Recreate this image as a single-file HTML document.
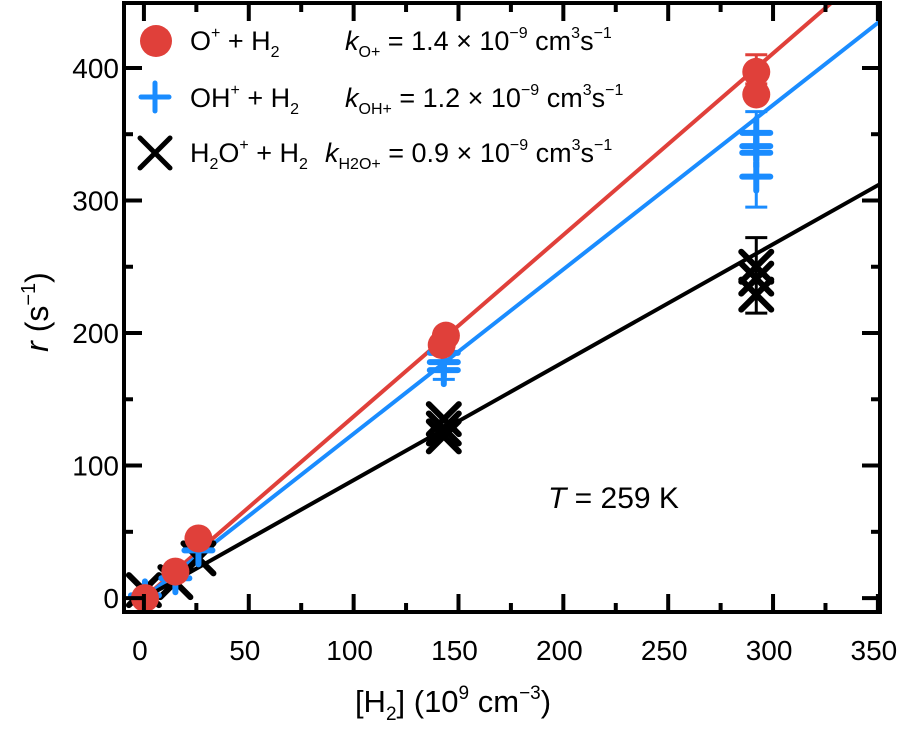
<!DOCTYPE html>
<html><head><meta charset="utf-8">
<style>
body{margin:0;background:#fff;}
svg text{font-family:"Liberation Sans",Arial,sans-serif;}
</style></head>
<body>
<svg id="chart" width="900" height="728" viewBox="0 0 900 728" xmlns="http://www.w3.org/2000/svg">
<g id="marks"></g>
<g id="frame"></g>
<g font-size="27">
  <circle cx="156" cy="41" r="16" fill="#e0403a"/>
  <text x="190" y="50">O<tspan font-size="16" dy="-12">+</tspan><tspan dy="12"> + H</tspan><tspan font-size="16" dy="7">2</tspan><tspan dy="-7" x="345" font-style="italic">k</tspan><tspan font-size="16" dy="7">O+</tspan><tspan dy="-7"> = 1.4 × 10</tspan><tspan font-size="16" dy="-12">−9</tspan><tspan dy="12"> cm</tspan><tspan font-size="16" dy="-12">3</tspan><tspan dy="12">s</tspan><tspan font-size="16" dy="-12">−1</tspan></text>
  <g stroke="#1a8cff" stroke-width="5" stroke-linecap="round"><line x1="141" y1="97" x2="169" y2="97"/><line x1="155" y1="83" x2="155" y2="111"/></g>
  <text x="190" y="107">OH<tspan font-size="16" dy="-12">+</tspan><tspan dy="12"> + H</tspan><tspan font-size="16" dy="7">2</tspan><tspan dy="-7" x="345" font-style="italic">k</tspan><tspan font-size="16" dy="7">OH+</tspan><tspan dy="-7"> = 1.2 × 10</tspan><tspan font-size="16" dy="-12">−9</tspan><tspan dy="12"> cm</tspan><tspan font-size="16" dy="-12">3</tspan><tspan dy="12">s</tspan><tspan font-size="16" dy="-12">−1</tspan></text>
  <g stroke="#000" stroke-width="5" stroke-linecap="round"><line x1="140" y1="138" x2="170" y2="168"/><line x1="170" y1="138" x2="140" y2="168"/></g>
  <text x="190" y="162">H<tspan font-size="16" dy="7">2</tspan><tspan dy="-7">O</tspan><tspan font-size="16" dy="-12">+</tspan><tspan dy="12"> + H</tspan><tspan font-size="16" dy="7">2</tspan><tspan dy="-7" x="325" font-style="italic">k</tspan><tspan font-size="16" dy="7">H2O+</tspan><tspan dy="-7"> = 0.9 × 10</tspan><tspan font-size="16" dy="-12">−9</tspan><tspan dy="12"> cm</tspan><tspan font-size="16" dy="-12">3</tspan><tspan dy="12">s</tspan><tspan font-size="16" dy="-12">−1</tspan></text>
</g>
<text x="548" y="508" font-size="30"><tspan font-style="italic">T</tspan> = 259 K</text>
<text transform="translate(48,312) rotate(-90)" text-anchor="middle" font-size="32"><tspan font-style="italic">r</tspan> (s<tspan font-size="20" dy="-13">−1</tspan><tspan dy="13">)</tspan></text>
<text x="453" y="712" text-anchor="middle" font-size="31">[H<tspan font-size="19" dy="8">2</tspan><tspan dy="-8">] (10</tspan><tspan font-size="19" dy="-13">9</tspan><tspan dy="13"> cm</tspan><tspan font-size="19" dy="-13">−3</tspan><tspan dy="13">)</tspan></text>
</svg>
<script>
const xTicks=[0,50,100,150,200,250,300,350];
const yTicks=[0,100,200,300,400];
const oX=[0.5,15,26,142,144,292,292];
const oY=[0,20,45,191,198,397,380];
const ohX=[0.5,15,26,143,143,143,292,292,292,292];
const ohY=[2,15,36,185,178,172,351,341,336,318];
const h2oX=[0,15,26,143,143,143,292,292,292];
const h2oY=[6,12,30,135,128,122,250,241,229];
const slopes=[1.37,1.24,0.89];
const lineColors=['#e0403a','#1a8cff','#000'];
const lineNames=['fit-line-o','fit-line-oh','fit-line-h2o'];
const errO=[[292,410,388]];
const errOH=[[292,367,295],[143,192,165]];
const errH2O=[[292,272,215]];
const X0=-9.5,X1=351,Y0=-10.5,Y1=449;
const L=124,R=880,T=3,B=612;
const sx=v=>L+(v-X0)/(X1-X0)*(R-L);
const sy=v=>B-(v-Y0)/(Y1-Y0)*(B-T);
const NS='http://www.w3.org/2000/svg';
const marks=document.getElementById('marks'),frame=document.getElementById('frame');
function mk(tag,attrs,parent){const e=document.createElementNS(NS,tag);for(const k in attrs)e.setAttribute(k,attrs[k]);parent.appendChild(e);return e;}
slopes.forEach((s,i)=>{
  const xe=Math.min(X1,Y1/s);
  const l=mk('line',{x1:sx(0),y1:sy(0),x2:sx(xe),y2:sy(s*xe),stroke:lineColors[i],'stroke-width':4},marks);
  
  
});
function errbars(arr,col,name){arr.forEach(e=>{
  const g=mk('g',{stroke:col,'stroke-width':3},marks);
  
  
  const x=sx(e[0]);
  mk('line',{x1:x,y1:sy(e[1]),x2:x,y2:sy(e[2])},g);
  mk('line',{x1:x-11,y1:sy(e[1]),x2:x+11,y2:sy(e[1])},g);
  mk('line',{x1:x-11,y1:sy(e[2]),x2:x+11,y2:sy(e[2])},g);
});}
errbars(errH2O,'#000','error-bar-h2o');
errbars(errOH,'#1a8cff','error-bar-oh');
errbars(errO,'#e0403a','error-bar-o');
h2oX.forEach((v,i)=>{
  const x=sx(v),y=sy(h2oY[i]);
  const g=mk('g',{stroke:'#000','stroke-width':6,'stroke-linecap':'round'},marks);
  
  
  mk('line',{x1:x-15,y1:y-15,x2:x+15,y2:y+15},g);
  mk('line',{x1:x+15,y1:y-15,x2:x-15,y2:y+15},g);
});
ohX.forEach((v,i)=>{
  const x=sx(v),y=sy(ohY[i]);
  const g=mk('g',{stroke:'#1a8cff','stroke-width':6,'stroke-linecap':'round'},marks);
  
  
  mk('line',{x1:x-14,y1:y,x2:x+14,y2:y},g);
  mk('line',{x1:x,y1:y-14,x2:x,y2:y+14},g);
});
oX.forEach((v,i)=>{
  const c=mk('circle',{cx:sx(v),cy:sy(oY[i]),r:14,fill:'#e0403a'},marks);
  
  
});
const fr=mk('rect',{x:L,y:T,width:R-L,height:B-T,fill:'none',stroke:'#000','stroke-width':4},frame);


const tg=mk('g',{stroke:'#000','stroke-width':4},frame);


for(let v=0;v<=350;v+=25){const x=sx(v),len=v%50===0?18:9;
  mk('line',{x1:x,y1:B,x2:x,y2:B-len},tg);mk('line',{x1:x,y1:T,x2:x,y2:T+len},tg);}
for(let v=0;v<=400;v+=50){const y=sy(v),len=v%100===0?18:9;
  mk('line',{x1:L,y1:y,x2:L+len,y2:y},tg);mk('line',{x1:R,y1:y,x2:R-len,y2:y},tg);}
xTicks.forEach(v=>{const t=mk('text',{x:sx(v)-4,y:660,'text-anchor':'middle','font-size':28},frame);t.textContent=v;
  
  });
yTicks.forEach(v=>{const t=mk('text',{x:119,y:sy(v)+10,'text-anchor':'end','font-size':28},frame);t.textContent=v;
  
  });
</script>
</body></html>
